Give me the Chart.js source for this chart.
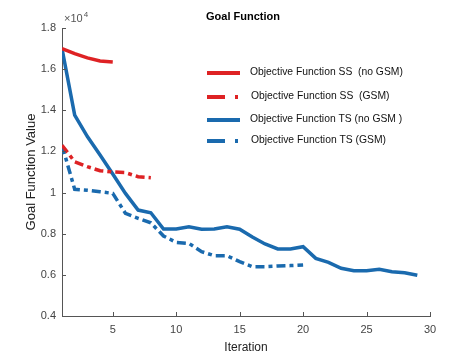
<!DOCTYPE html>
<html><head><meta charset="utf-8">
<script src="https://cdn.jsdelivr.net/npm/chart.js@4"></script>
<style>html,body{margin:0;padding:0;background:#fff}#wrap{width:474px;height:355px;position:relative}</style>
</head><body><div id="wrap"><canvas id="c" width="474" height="355"></canvas></div>
<script>
// ---- data (values in units of 10^4) ----
const chartTitle = 'Goal Function';
const xTitle = 'Iteration';
const yTitle = 'Goal Function Value';
const iterations = [1,2,3,4,5,6,7,8,9,10,11,12,13,14,15,16,17,18,19,20,21,22,23,24,25,26,27,28,29];
const ssNoGsm = [1.70,1.675,1.655,1.64,1.635];
const ssGsm = [1.23,1.15,1.126,1.106,1.10,1.097,1.077,1.072];
const tsNoGsm = [1.70,1.377,1.272,1.183,1.09,0.996,0.915,0.902,0.823,0.823,0.834,0.822,0.823,0.834,0.822,0.784,0.75,0.726,0.726,0.737,0.68,0.661,0.632,0.62,0.62,0.627,0.615,0.61,0.598];
const tsGsm = [1.23,1.016,1.011,1.004,0.996,0.899,0.875,0.853,0.789,0.758,0.753,0.713,0.693,0.693,0.664,0.64,0.64,0.643,0.645,0.648];
const seriesLabels = ['Objective Function SS  (no GSM)','Objective Function SS  (GSM)','Objective Function TS (no GSM )','Objective Function TS (GSM)'];
const xTickValues = [5,10,15,20,25,30];
const xTickLabels = ['5','10','15','20','25','30'];
const yTickValues = [0.4,0.6,0.8,1.0,1.2,1.4,1.6,1.8];
const yTickLabels = ['0.4','0.6','0.8','1','1.2','1.4','1.6','1.8'];
const exponentLabel = '4';

const RED = '#DE2224', BLUE = '#1A6AAE';
const FONT = "'Liberation Sans', Arial, sans-serif";
const DASH = [9,4,4,4];
const pts = arr => arr.map((v,i)=>({x:iterations[i], y:v}));

const legendSamples = [[], [18,10,3,100], [], [18,10,3,100]];

const overlay = {
  id:'overlay',
  afterDraw(chart){
    const {ctx, chartArea:a, scales:{x,y}} = chart;
    ctx.save();
    // inside ticks
    ctx.strokeStyle = '#555'; ctx.lineWidth = 1;
    ctx.beginPath();
    yTickValues.forEach(v=>{ const py = Math.round(y.getPixelForValue(v))+0.5; ctx.moveTo(a.left, py); ctx.lineTo(a.left+4, py); });
    xTickValues.forEach(v=>{ const px = Math.round(x.getPixelForValue(v))+0.5; ctx.moveTo(px, a.bottom); ctx.lineTo(px, a.bottom-4); });
    ctx.stroke();
    // exponent
    ctx.fillStyle = '#555';
    ctx.font = '11px ' + FONT;
    ctx.textBaseline = 'alphabetic'; ctx.textAlign = 'left';
    const ex = a.left + 2, ey = a.top - 6;
    ctx.fillText('\u00d710', ex, ey);
    const w = ctx.measureText('\u00d710').width;
    ctx.font = '8px ' + FONT;
    ctx.fillText(exponentLabel, ex + w + 1, ey - 5);
    // title
    ctx.fillStyle = '#000';
    ctx.font = 'bold 11px ' + FONT;
    ctx.textAlign = 'center'; ctx.textBaseline = 'middle';
    ctx.fillText(chartTitle, 243, 17);
    // legend
    const rows = [73, 97, 120, 141];
    chart.data.datasets.forEach((ds,i)=>{
      const yy = rows[i];
      ctx.strokeStyle = ds.borderColor; ctx.lineWidth = 4; ctx.lineCap='butt';
      ctx.setLineDash(legendSamples[i]);
      ctx.beginPath(); ctx.moveTo(207, yy); ctx.lineTo(240, yy); ctx.stroke();
      ctx.setLineDash([]);
      ctx.fillStyle = '#111'; ctx.font = '11px ' + FONT;
      ctx.textAlign = 'left'; ctx.textBaseline = 'middle';
      ctx.save();
      ctx.translate((i%2===0)?250:251, yy - 1);
      ctx.scale(0.94, 1);
      ctx.fillText(ds.label, 0, 0);
      ctx.restore();
    });
    ctx.restore();
  }
};

const common = {pointRadius:0, borderWidth:3.5, tension:0, fill:false};
new Chart(document.getElementById('c'), {
  type:'line',
  data:{datasets:[
    {label:seriesLabels[0], data:pts(ssNoGsm), borderColor:RED, ...common},
    {label:seriesLabels[1], data:pts(ssGsm), borderColor:RED, borderDash:DASH, ...common},
    {label:seriesLabels[2], data:pts(tsNoGsm), borderColor:BLUE, ...common},
    {label:seriesLabels[3], data:pts(tsGsm), borderColor:BLUE, borderDash:DASH, ...common}
  ]},
  options:{
    responsive:false, animation:false, devicePixelRatio:1,
    layout:{padding:{top:28,right:44,left:0,bottom:0}},
    plugins:{legend:{display:false}, title:{display:false}, tooltip:{enabled:false}},
    scales:{
      x:{type:'linear', min:1, max:30,
        afterBuildTicks(s){ s.ticks = xTickValues.map(v=>({value:v})); },
        afterFit(s){ s.height = 39; },
        grid:{display:false, drawTicks:false},
        border:{display:true, color:'#555', width:1},
        ticks:{padding:7, color:'#444', font:{family:FONT,size:11}, maxRotation:0, autoSkip:false,
          callback:(v)=>xTickLabels[xTickValues.indexOf(v)]},
        title:{display:true, text:xTitle, color:'#222', font:{family:FONT,size:12}, padding:{top:0,bottom:0}}
      },
      y:{type:'linear', min:0.4, max:1.8,
        afterBuildTicks(s){ s.ticks = yTickValues.map(v=>({value:v})); },
        afterFit(s){ s.width = 62; },
        grid:{display:false, drawTicks:false},
        border:{display:true, color:'#555', width:1},
        ticks:{padding:6, color:'#444', font:{family:FONT,size:11}, autoSkip:false,
          callback:(v)=>{ const i = yTickValues.findIndex(t=>Math.abs(t-v)<1e-9); return i>=0?yTickLabels[i]:''; }},
        title:{display:true, text:yTitle, color:'#222', font:{family:FONT,size:13}, padding:{top:24,bottom:0}}
      }
    }
  },
  plugins:[overlay]
});
</script></body></html>
